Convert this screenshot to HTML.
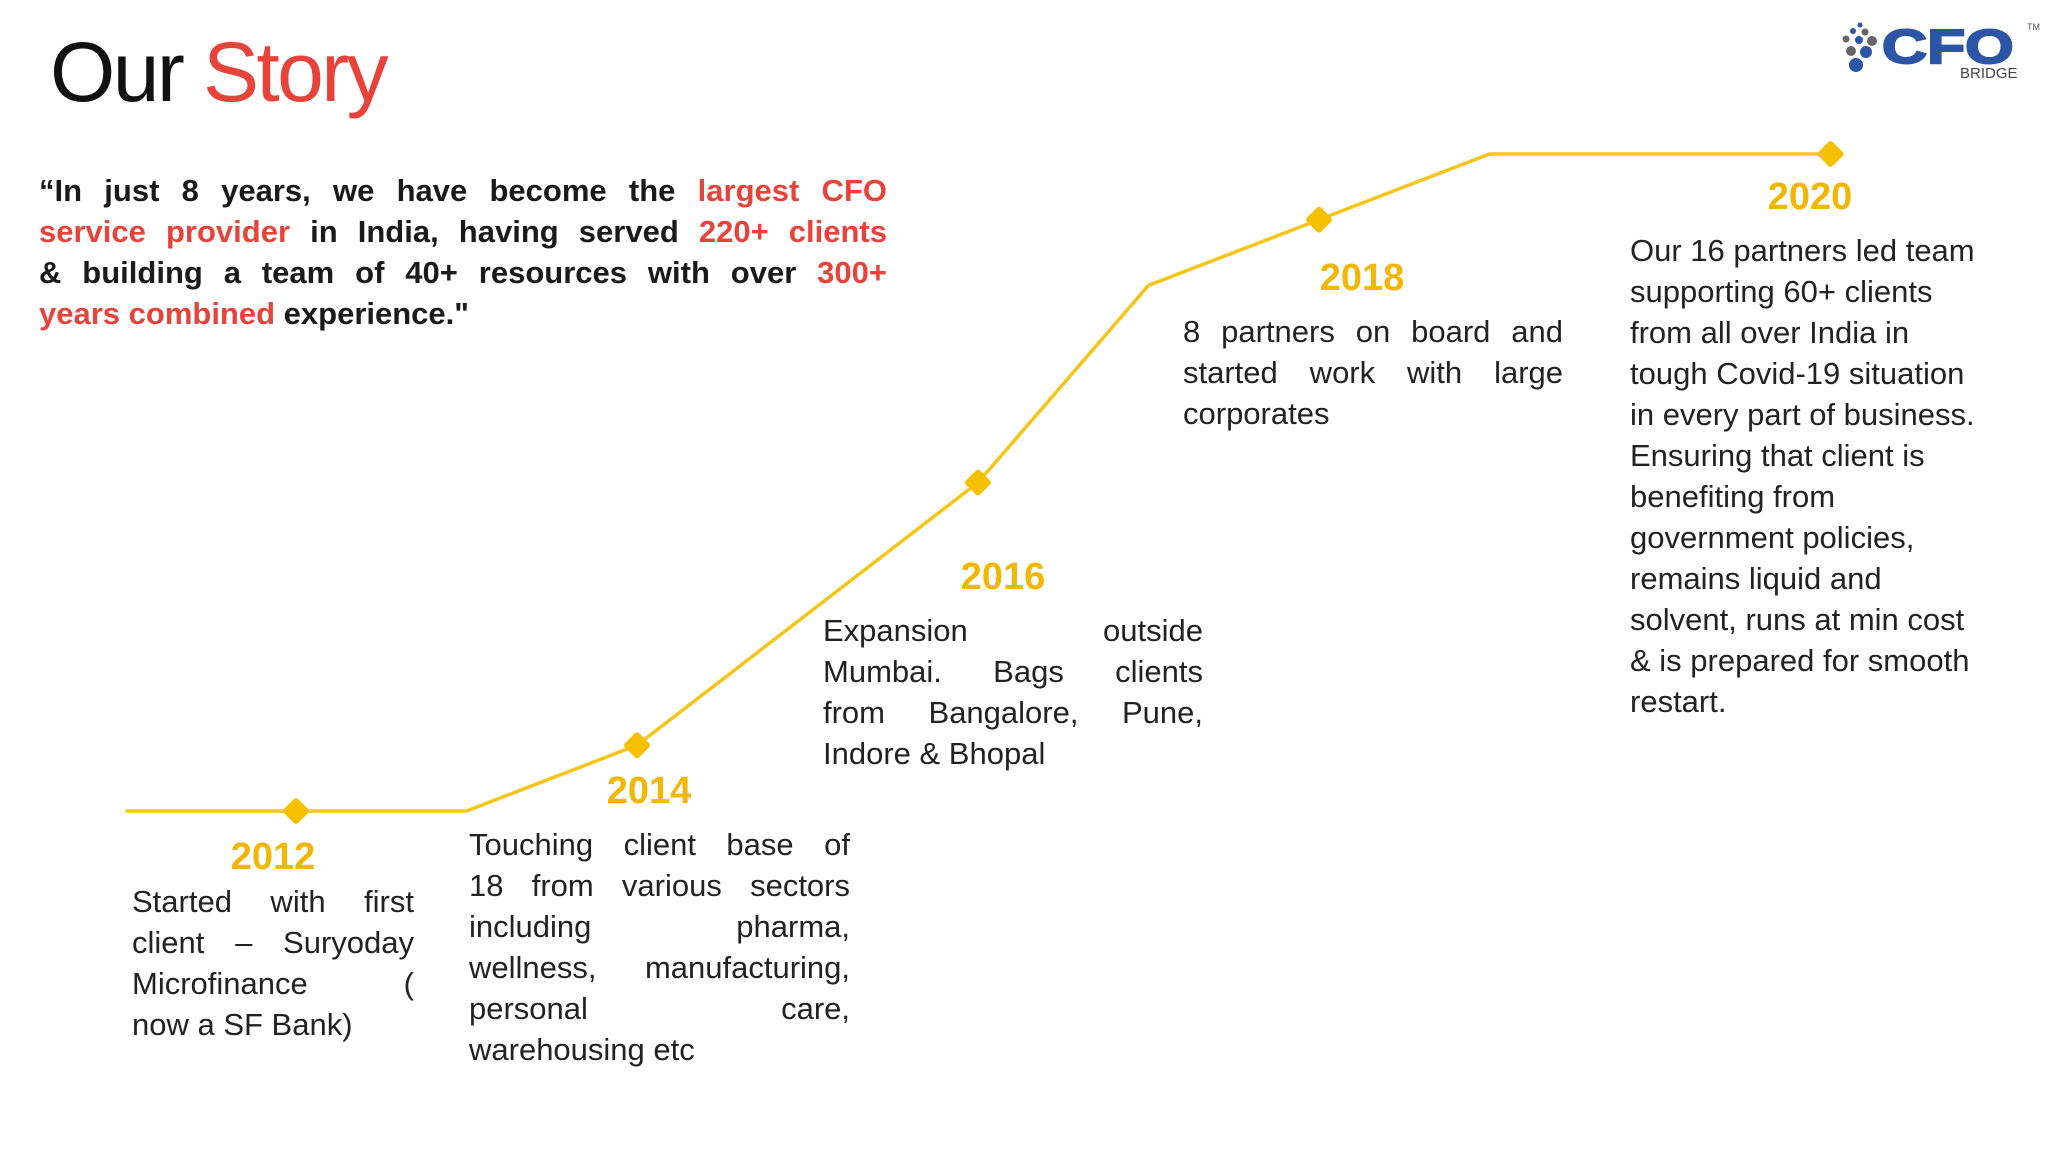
<!DOCTYPE html>
<html><head><meta charset="utf-8">
<style>
html,body{margin:0;padding:0;background:#fff;}
body{width:2048px;height:1152px;position:relative;overflow:hidden;font-family:"Liberation Sans",sans-serif;}
.abs{position:absolute;}
.title{left:50px;top:30px;font-size:84px;letter-spacing:-2.6px;color:#111;line-height:1;}
.title .red{color:#e8433a;}
.quote{left:39px;top:170px;width:848px;font-size:31px;font-weight:bold;line-height:41px;color:#1a1a1a;}
.quote .r{color:#e8433a;}
.yr{font-size:38px;font-weight:bold;color:#f2b705;line-height:1;transform:translate(-50%,-50%);}
.body{font-size:31px;line-height:41px;color:#222;}
.j{display:block;text-align:justify;text-align-last:justify;white-space:nowrap;}
.l{display:block;white-space:nowrap;}
</style></head>
<body>
<div class="abs title">Our <span class="red">Story</span></div>
<div class="abs quote">
<span class="j" style="white-space:normal">“In just 8 years, we have become the <span class="r">largest CFO</span></span>
<span class="j" style="white-space:normal"><span class="r">service provider</span> in India, having served <span class="r">220+ clients</span></span>
<span class="j" style="white-space:normal">&amp; building a team of 40+ resources with over <span class="r">300+</span></span>
<span class="l"><span class="r">years combined</span> experience."</span>
</div>

<div class="abs" style="left:1838px;top:20px;width:200px;height:64px;">
  <svg width="200" height="64">
    <circle cx="22" cy="5" r="2.5" fill="#2d55a5"/>
    <circle cx="15" cy="11" r="3" fill="#2d55a5"/><circle cx="27" cy="12" r="3.5" fill="#666"/>
    <circle cx="8" cy="19" r="3.5" fill="#666"/><circle cx="21" cy="20" r="4" fill="#2d55a5"/><circle cx="34" cy="21" r="5" fill="#666"/>
    <circle cx="13" cy="31" r="5" fill="#666"/><circle cx="28" cy="32" r="6" fill="#2d55a5"/>
    <circle cx="18" cy="45" r="7" fill="#2d55a5"/>
  </svg>
  <div class="abs" style="left:44px;top:4px;font-size:48px;font-weight:900;color:#2d55a5;letter-spacing:0px;line-height:1;font-family:'Liberation Sans',sans-serif;transform:scaleX(1.3);transform-origin:left;-webkit-text-stroke:2px #2d55a5;">CFO</div>
  <div class="abs" style="left:189px;top:2px;font-size:9px;color:#555;">TM</div>
  <div class="abs" style="left:122px;top:45px;font-size:15px;color:#444;">BRIDGE</div>
</div>

<svg class="abs" style="left:0;top:0" width="2048" height="1152" id="chart"></svg>

<div class="abs yr" style="left:273px;top:857px">2012</div>
<div class="abs body" style="left:132px;top:881px;width:282px">
<span class="j">Started with first</span><span class="j">client – Suryoday</span><span class="j">Microfinance (</span><span class="l">now a SF Bank)</span></div>

<div class="abs yr" style="left:649px;top:791px">2014</div>
<div class="abs body" style="left:469px;top:824px;width:381px">
<span class="j">Touching client base of</span><span class="j">18 from various sectors</span><span class="j">including pharma,</span><span class="j">wellness, manufacturing,</span><span class="j">personal care,</span><span class="l">warehousing etc</span></div>

<div class="abs yr" style="left:1003px;top:577px">2016</div>
<div class="abs body" style="left:823px;top:610px;width:380px">
<span class="j">Expansion outside</span><span class="j">Mumbai. Bags clients</span><span class="j">from Bangalore, Pune,</span><span class="l">Indore &amp; Bhopal</span></div>

<div class="abs yr" style="left:1362px;top:278px">2018</div>
<div class="abs body" style="left:1183px;top:311px;width:380px">
<span class="j">8 partners on board and</span><span class="j">started work with large</span><span class="l">corporates</span></div>

<div class="abs yr" style="left:1810px;top:197px">2020</div>
<div class="abs body" style="left:1630px;top:230px;width:410px">
<span class="l">Our 16 partners led team</span><span class="l">supporting 60+ clients</span><span class="l">from all over India in</span><span class="l">tough Covid-19 situation</span><span class="l">in every part of business.</span><span class="l">Ensuring that client is</span><span class="l">benefiting from</span><span class="l">government policies,</span><span class="l">remains liquid and</span><span class="l">solvent, runs at min cost</span><span class="l">&amp; is prepared for smooth</span><span class="l">restart.</span></div>

<script>
const lineYears = [2011, 2012, 2013, 2014, 2016, 2017, 2018, 2019, 2021];
const lineValues = [0, 0, 0, 10, 50, 80, 90, 100, 100];
const markerIdx = [1, 3, 4, 6, 8];
const markerLabels = ['2012', '2014', '2016', '2018', '2020'];

const X0 = 296, PX_PER_YEAR = 170.5, Y0 = 811, PX_PER_UNIT = 6.57;
function xs(y){ return X0 + (y - 2012) * PX_PER_YEAR; }
function ys(v){ return Y0 - v * PX_PER_UNIT; }

const svg = document.getElementById('chart');
const NS = 'http://www.w3.org/2000/svg';
const pl = document.createElementNS(NS, 'polyline');
pl.setAttribute('points', lineYears.map((y, i) => xs(y).toFixed(1) + ',' + ys(lineValues[i]).toFixed(1)).join(' '));
pl.setAttribute('fill', 'none');
pl.setAttribute('stroke', '#f5c518');
pl.setAttribute('stroke-width', '3.5');


svg.appendChild(pl);

markerIdx.forEach((idx, k) => {
  const cx = xs(lineYears[idx]), cy = ys(lineValues[idx]);
  const d = document.createElementNS(NS, 'rect');
  d.setAttribute('x', cx - 10); d.setAttribute('y', cy - 10);
  d.setAttribute('width', 20); d.setAttribute('height', 20);
  d.setAttribute('rx', 3);
  d.setAttribute('fill', '#f5c000');
  d.setAttribute('transform', 'rotate(45 ' + cx + ' ' + cy + ')');
  
  
  svg.appendChild(d);
});
</script>
</body></html>
